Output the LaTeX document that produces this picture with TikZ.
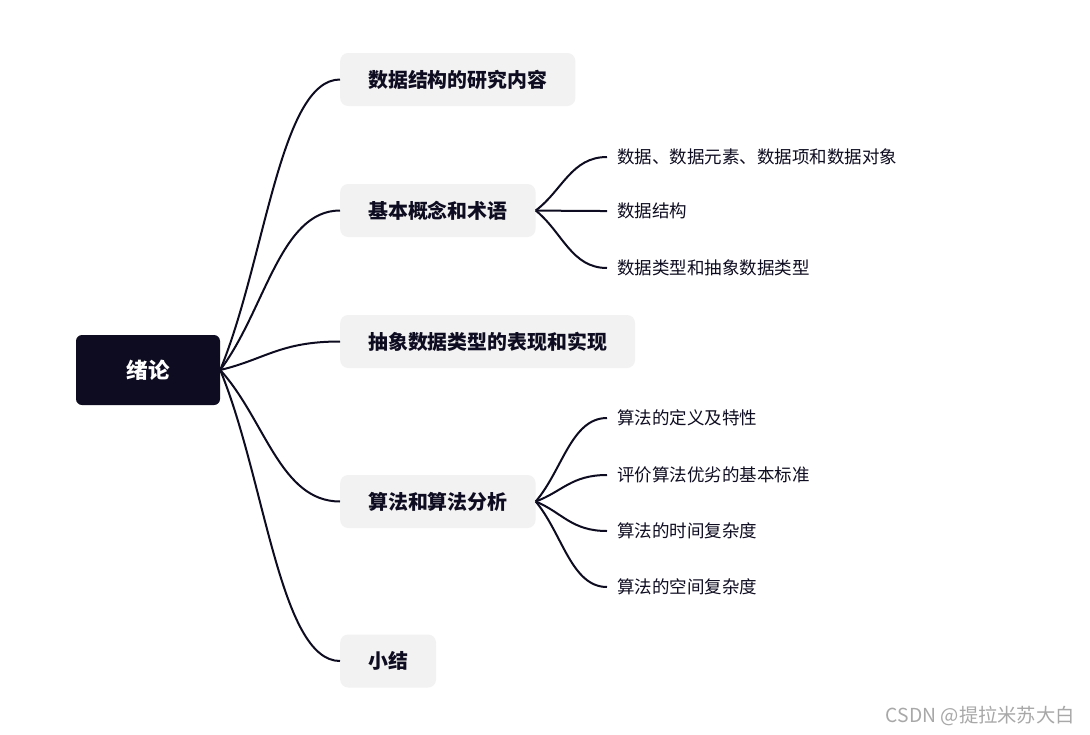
\documentclass[tikz,border=0pt]{standalone}
\usepackage{fontspec}
\setmainfont{Noto Sans CJK SC}
\newfontfamily\cjk{Noto Sans CJK SC}
\usetikzlibrary{calc}
\definecolor{ink}{HTML}{0E0C20}
\definecolor{boxgray}{HTML}{F2F2F2}
\definecolor{wm}{HTML}{A8A8A8}
\tikzset{
  rootbox/.style={fill=ink, rounded corners=6pt, minimum width=144pt, minimum height=70pt,
    text=white, font=\cjk\bfseries\fontsize{21.5}{24}\selectfont, inner sep=0pt},
  topicbox/.style={fill=boxgray, rounded corners=8pt, minimum height=53pt, inner xsep=28pt,
    inner ysep=0pt, text=ink, font=\cjk\bfseries\fontsize{19.9}{22}\selectfont, anchor=west},
  leaf/.style={anchor=west, inner xsep=10pt, inner ysep=0pt, text=ink,
    font=\cjk\fontsize{17.5}{20}\selectfont},
  link/.style={draw=ink, line width=2pt},
}
\begin{document}
\begin{tikzpicture}[x=1pt,y=-1pt]
\useasboundingbox (0,0) rectangle (1090,734);
\fill[white] (0,0) rectangle (1090,734);

\node[rootbox] (root) at (148,370) {绪论};

\node[topicbox] (t1) at (340,79.5) {数据结构的研究内容};
\node[topicbox] (t2) at (340,210.5) {基本概念和术语};
\node[topicbox] (t3) at (340,341.5) {抽象数据类型的表现和实现};
\node[topicbox] (t4) at (340,501.5) {算法和算法分析};
\node[topicbox] (t5) at (340,661) {小结};

\node[leaf] (l21) at (607,157) {数据、数据元素、数据项和数据对象};
\node[leaf] (l22) at (607,211) {数据结构};
\node[leaf] (l23) at (607,268) {数据类型和抽象数据类型};

\node[leaf] (l41) at (607,418) {算法的定义及特性};
\node[leaf] (l42) at (607,475) {评价算法优劣的基本标准};
\node[leaf] (l43) at (607,531) {算法的时间复杂度};
\node[leaf] (l44) at (607,587) {算法的空间复杂度};

\foreach \s/\t in {root/t1,root/t2,root/t3,root/t4,root/t5,t2/l21,t2/l22,t2/l23,t4/l41,t4/l42,t4/l43,t4/l44} {
  \coordinate (a) at ($(\s.east)!0.375!(\t.west)$);
  \coordinate (m) at ($(\s.east)!0.5!(\t.west)$);
  \draw[link] (\s.east) .. controls (a) and (m |- \t.west) .. (\t.west);
}

\node[anchor=east, text=wm, font=\cjk\fontsize{19.3}{22}\selectfont, inner sep=0pt] (wmark) at (1075,716) {CSDN @提拉米苏大白};
\end{tikzpicture}
\end{document}
